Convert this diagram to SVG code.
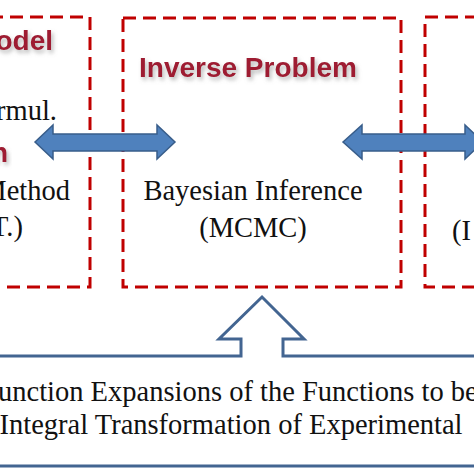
<svg xmlns="http://www.w3.org/2000/svg" width="474" height="474" viewBox="0 0 474 474">
<defs>
<filter id="sh" x="-10%" y="-30%" width="130%" height="180%">
<feDropShadow dx="2" dy="3" stdDeviation="2" flood-color="#7f7f7f" flood-opacity="0.55"/>
</filter>
<style>
.box{fill:none;stroke:#C00000;stroke-width:3;stroke-dasharray:13 7}
.title{font-family:"Liberation Sans",Arial,sans-serif;font-weight:bold;font-size:28px;fill:#9E1A32}
.t{font-family:"Liberation Serif","Times New Roman",serif;font-size:28.5px;fill:#111}
.arr{fill:#4F81BD;stroke:#385D8A;stroke-width:1.5}
.frame{fill:none;stroke:#436591;stroke-width:3}
</style>
</defs>
<rect width="474" height="474" fill="#fff"/>
<g id="left-box">
<rect class="box" x="-30" y="17" width="120" height="270"/>
<text class="title" x="53" y="50" text-anchor="end" filter="url(#sh)">odel</text>
<text class="t" x="57" y="120" text-anchor="end">rmul.</text>
<text class="title" x="8" y="162" text-anchor="end" filter="url(#sh)">n</text>
<text class="t" x="70" y="200" text-anchor="end">Method</text>
<text class="t" x="23" y="236" text-anchor="end">T.)</text>
</g>
<g id="middle-box">
<rect class="box" x="123" y="18" width="278" height="269"/>
<text class="title" x="139" y="77" filter="url(#sh)">Inverse Problem</text>
<text class="t" x="253" y="200" text-anchor="middle">Bayesian Inference</text>
<text class="t" x="253" y="237" text-anchor="middle">(MCMC)</text>
</g>
<g id="right-box">
<rect class="box" x="425" y="17" width="80" height="270"/>
<text class="t" x="452" y="240">(I</text>
</g>
<g id="bottom-box">
<path class="frame" d="M-5 356 H241 V339 H219 L262 297 L304 339 H283 V356 H480"/>
<path class="frame" d="M-5 466 H480"/>
<text class="t" x="-2" y="401">unction Expansions of the Functions to be</text>
<text class="t" x="-0.5" y="434">Integral Transformation of Experimental</text>
</g>
<g id="connectors">
<path class="arr" d="M35 142 L53 125 V134 H157 V125 L175 142 L157 159 V151 H53 V159 Z"/>
<path class="arr" d="M343 142 L362 125 V134 H465 V125 L483 142 L465 159 V151 H362 V159 Z"/>
</g>
</svg>
